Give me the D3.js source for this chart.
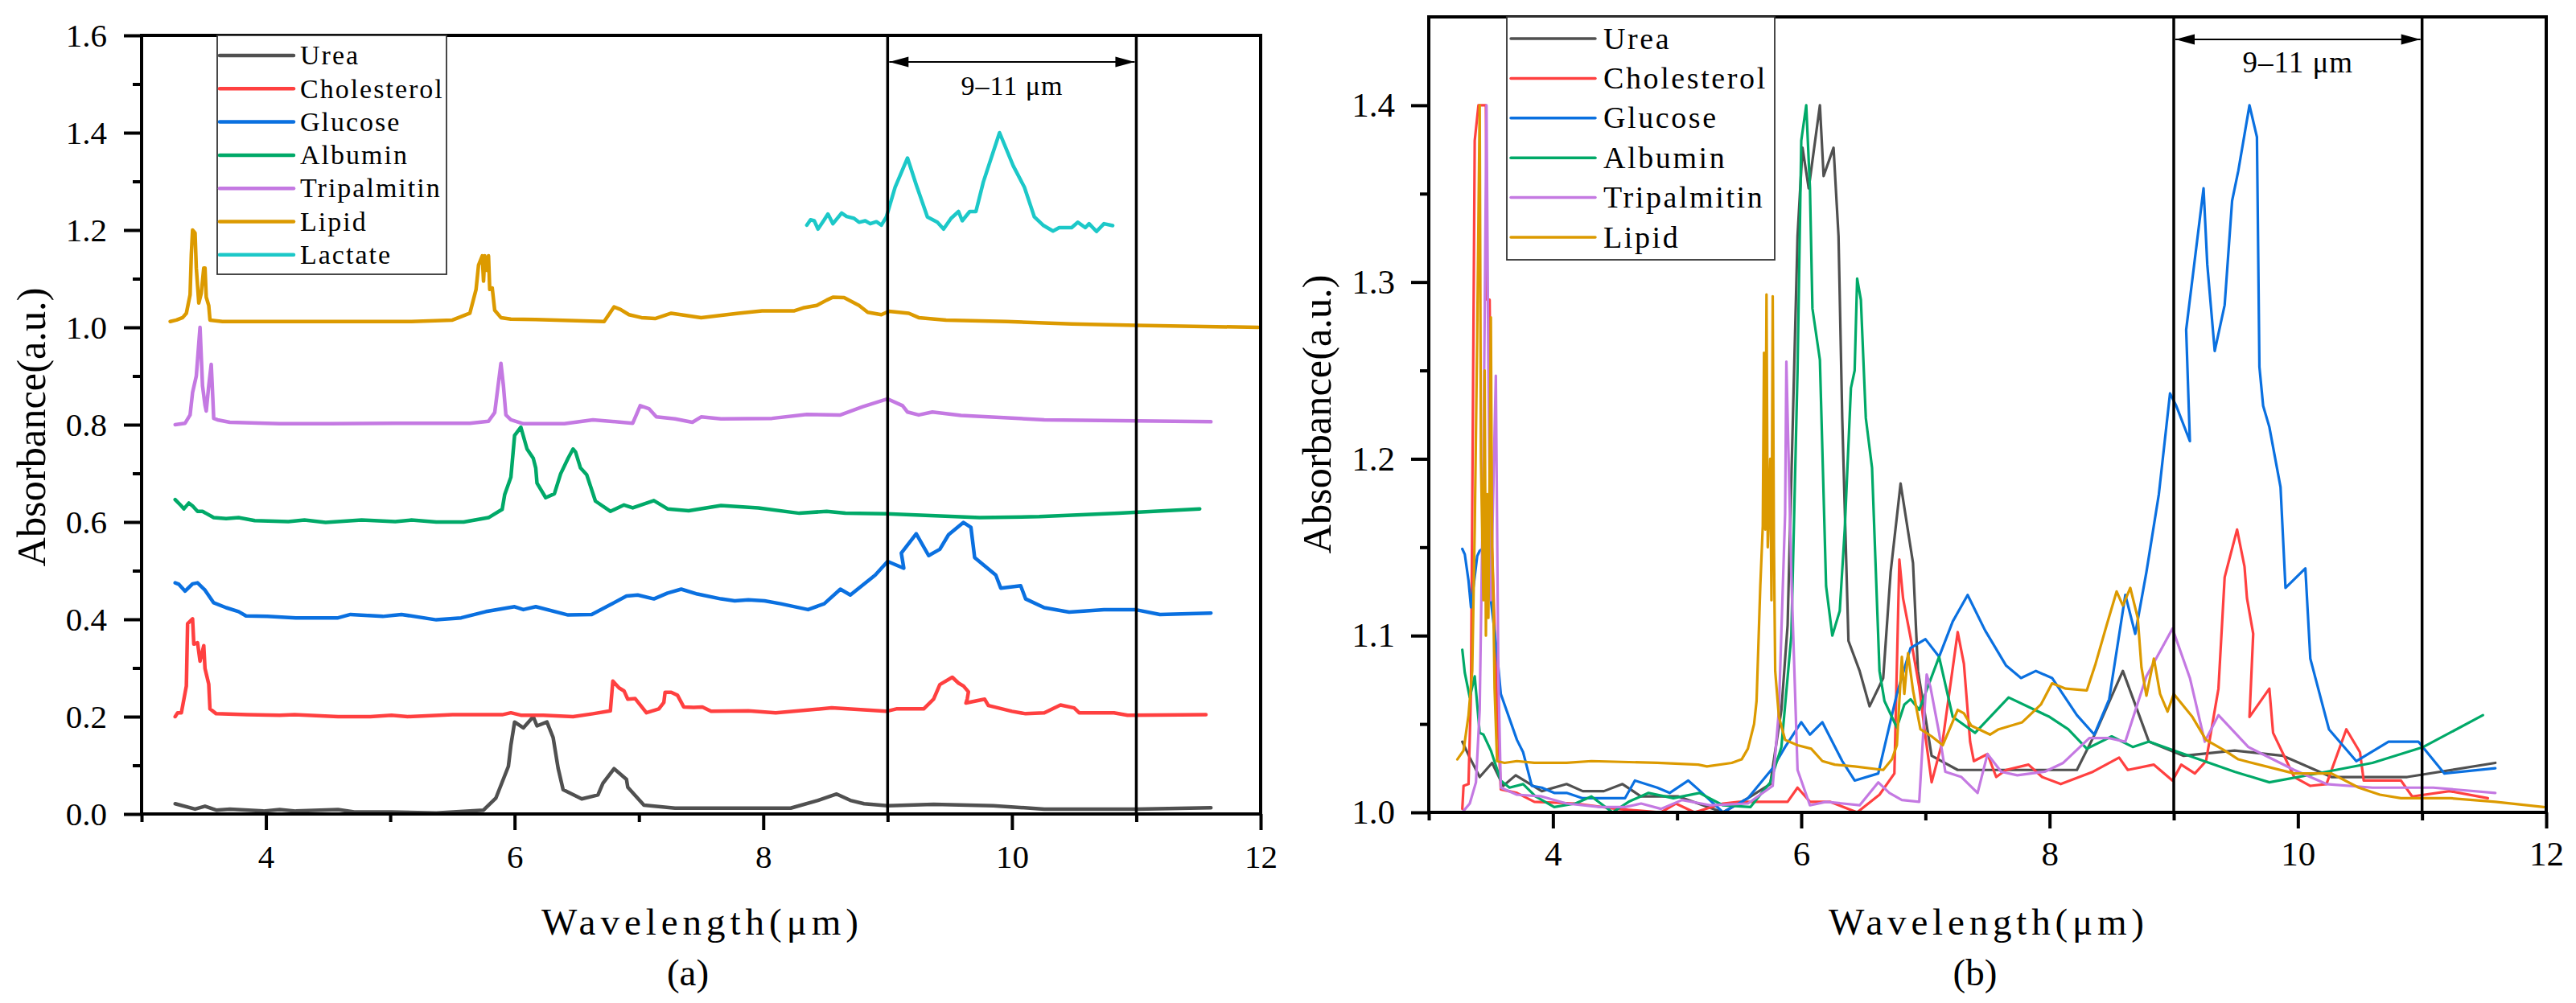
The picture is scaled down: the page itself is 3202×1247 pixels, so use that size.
<!DOCTYPE html>
<html lang="en">
<head>
<meta charset="UTF-8">
<title>Absorbance spectra</title>
<script src="https://d3js.org/d3.v7.min.js"></script>
<style>
  html, body { margin: 0; padding: 0; background: #fff; }
  text { font-family: "Liberation Serif", "Times New Roman", "DejaVu Serif", serif; fill: #000; }
</style>
</head>
<body>
<div id="chart"></div>
<script>
// series names + colours (same order in both panels)
const names = ['Urea', 'Cholesterol', 'Glucose', 'Albumin', 'Tripalmitin', 'Lipid', 'Lactate'];
const colors = ['#505050', '#ff4040', '#0a70e0', '#00a968', '#c479e2', '#dc9a00', '#1cc8c8'];

// panel (a): offset spectra, [wavelength (um), absorbance]
const ureaA = [[3.27,0.021],[3.43,0.010],[3.51,0.016],[3.60,0.008],[3.71,0.010],[3.98,0.006],[4.11,0.009],[4.24,0.006],[4.58,0.009],[4.71,0.004],[5.01,0.004],[5.37,0.002],[5.75,0.008],[5.85,0.033],[5.95,0.098],[5.97,0.141],[6.00,0.189],[6.07,0.177],[6.15,0.200],[6.18,0.181],[6.26,0.189],[6.31,0.157],[6.35,0.094],[6.39,0.050],[6.54,0.031],[6.67,0.039],[6.71,0.063],[6.80,0.093],[6.90,0.071],[6.91,0.055],[7.04,0.018],[7.29,0.012],[8.22,0.012],[8.44,0.028],[8.59,0.041],[8.70,0.028],[8.81,0.021],[9.00,0.017],[9.37,0.020],[9.85,0.017],[10.26,0.010],[11.00,0.010],[11.60,0.013]];
const cholA = [[3.27,0.200],[3.29,0.208],[3.32,0.208],[3.36,0.263],[3.37,0.391],[3.41,0.401],[3.42,0.349],[3.45,0.352],[3.47,0.314],[3.50,0.346],[3.51,0.299],[3.54,0.267],[3.55,0.216],[3.60,0.206],[3.85,0.204],[4.11,0.203],[4.23,0.204],[4.58,0.200],[4.84,0.200],[5.01,0.203],[5.14,0.200],[5.50,0.204],[5.90,0.204],[5.97,0.208],[6.05,0.203],[6.23,0.203],[6.47,0.200],[6.63,0.206],[6.77,0.212],[6.79,0.273],[6.84,0.259],[6.88,0.253],[6.91,0.236],[6.97,0.237],[7.06,0.208],[7.16,0.216],[7.20,0.229],[7.21,0.250],[7.26,0.250],[7.31,0.244],[7.36,0.220],[7.44,0.219],[7.51,0.220],[7.58,0.211],[7.88,0.212],[8.10,0.208],[8.55,0.218],[8.99,0.211],[9.07,0.216],[9.29,0.216],[9.37,0.236],[9.42,0.266],[9.52,0.281],[9.57,0.269],[9.61,0.263],[9.65,0.251],[9.64,0.236],[9.63,0.228],[9.78,0.236],[9.81,0.223],[10.00,0.211],[10.11,0.206],[10.26,0.208],[10.39,0.224],[10.50,0.218],[10.54,0.208],[10.82,0.208],[10.93,0.203],[11.56,0.204]];
const glucA = [[3.27,0.475],[3.30,0.472],[3.35,0.458],[3.41,0.473],[3.45,0.475],[3.51,0.460],[3.58,0.434],[3.68,0.424],[3.78,0.416],[3.84,0.407],[4.01,0.406],[4.24,0.403],[4.58,0.403],[4.68,0.410],[4.94,0.406],[5.09,0.410],[5.37,0.399],[5.57,0.403],[5.77,0.416],[6.00,0.426],[6.07,0.420],[6.17,0.426],[6.43,0.409],[6.62,0.410],[6.77,0.430],[6.90,0.448],[6.99,0.450],[7.12,0.442],[7.23,0.454],[7.34,0.462],[7.47,0.452],[7.66,0.442],[7.77,0.438],[7.88,0.440],[8.01,0.438],[8.14,0.432],[8.36,0.420],[8.49,0.432],[8.62,0.462],[8.70,0.450],[8.90,0.491],[9.00,0.519],[9.13,0.505],[9.11,0.536],[9.23,0.576],[9.33,0.531],[9.42,0.544],[9.49,0.574],[9.61,0.599],[9.67,0.589],[9.70,0.527],[9.87,0.491],[9.91,0.464],[10.07,0.469],[10.11,0.442],[10.26,0.424],[10.46,0.415],[10.74,0.420],[10.99,0.420],[11.19,0.410],[11.60,0.413]];
const albA = [[3.27,0.646],[3.32,0.633],[3.34,0.627],[3.38,0.639],[3.41,0.633],[3.45,0.622],[3.49,0.622],[3.58,0.609],[3.68,0.607],[3.78,0.609],[3.91,0.603],[4.18,0.601],[4.31,0.604],[4.48,0.599],[4.77,0.604],[5.04,0.601],[5.17,0.604],[5.37,0.600],[5.59,0.600],[5.79,0.609],[5.90,0.626],[5.92,0.656],[5.97,0.692],[6.00,0.778],[6.05,0.795],[6.10,0.750],[6.15,0.731],[6.17,0.711],[6.18,0.680],[6.25,0.650],[6.32,0.658],[6.37,0.699],[6.43,0.731],[6.47,0.750],[6.49,0.744],[6.53,0.711],[6.58,0.697],[6.65,0.643],[6.77,0.622],[6.88,0.635],[6.95,0.629],[7.12,0.644],[7.23,0.627],[7.40,0.623],[7.66,0.634],[7.96,0.629],[8.29,0.618],[8.51,0.622],[8.66,0.618],[8.99,0.617],[9.74,0.609],[10.22,0.611],[10.86,0.618],[11.51,0.627]];
const tripA = [[3.27,0.800],[3.35,0.803],[3.39,0.820],[3.41,0.866],[3.44,0.900],[3.47,1.000],[3.49,0.880],[3.51,0.840],[3.52,0.828],[3.54,0.880],[3.56,0.924],[3.57,0.870],[3.58,0.813],[3.61,0.810],[3.71,0.805],[4.11,0.802],[4.51,0.802],[5.04,0.803],[5.64,0.803],[5.79,0.807],[5.84,0.825],[5.89,0.926],[5.91,0.880],[5.93,0.820],[5.97,0.810],[6.07,0.802],[6.40,0.802],[6.63,0.810],[6.95,0.803],[6.98,0.821],[7.01,0.839],[7.08,0.833],[7.14,0.816],[7.29,0.812],[7.43,0.805],[7.50,0.816],[7.66,0.812],[8.07,0.813],[8.35,0.821],[8.62,0.820],[8.80,0.837],[9.00,0.853],[9.12,0.839],[9.16,0.826],[9.25,0.820],[9.36,0.826],[9.59,0.819],[10.26,0.810],[11.60,0.806]];
const lipidA = [[3.23,1.012],[3.28,1.015],[3.33,1.020],[3.36,1.029],[3.39,1.067],[3.40,1.150],[3.41,1.200],[3.43,1.194],[3.44,1.122],[3.46,1.050],[3.48,1.070],[3.50,1.122],[3.51,1.122],[3.52,1.062],[3.54,1.045],[3.55,1.015],[3.65,1.012],[4.18,1.012],[5.17,1.012],[5.50,1.015],[5.64,1.029],[5.69,1.078],[5.71,1.128],[5.74,1.147],[5.75,1.095],[5.76,1.147],[5.78,1.117],[5.79,1.147],[5.80,1.078],[5.82,1.081],[5.84,1.035],[5.89,1.020],[5.97,1.017],[6.17,1.016],[6.72,1.012],[6.80,1.042],[6.85,1.037],[6.92,1.026],[7.02,1.020],[7.13,1.018],[7.26,1.029],[7.50,1.020],[7.80,1.029],[7.99,1.034],[8.25,1.034],[8.32,1.040],[8.43,1.045],[8.51,1.056],[8.56,1.062],[8.65,1.061],[8.77,1.045],[8.84,1.031],[8.95,1.026],[9.01,1.033],[9.17,1.029],[9.25,1.020],[9.47,1.015],[9.96,1.012],[10.48,1.007],[11.00,1.004],[11.98,1.000]];
const lactA = [[8.35,1.210],[8.38,1.221],[8.41,1.219],[8.44,1.202],[8.49,1.221],[8.52,1.233],[8.56,1.213],[8.63,1.235],[8.67,1.228],[8.73,1.224],[8.77,1.216],[8.82,1.219],[8.86,1.213],[8.91,1.217],[8.95,1.210],[8.99,1.227],[9.06,1.288],[9.16,1.348],[9.23,1.293],[9.32,1.227],[9.40,1.216],[9.45,1.202],[9.51,1.224],[9.57,1.238],[9.60,1.219],[9.66,1.238],[9.71,1.238],[9.77,1.299],[9.90,1.400],[10.01,1.332],[10.10,1.288],[10.18,1.227],[10.25,1.210],[10.33,1.198],[10.38,1.205],[10.48,1.205],[10.53,1.216],[10.59,1.205],[10.62,1.213],[10.68,1.197],[10.74,1.213],[10.81,1.209]];

// panel (b): overlaid spectra
const ureaB = [[3.27,1.040],[3.33,1.031],[3.41,1.020],[3.51,1.028],[3.60,1.015],[3.70,1.021],[3.91,1.012],[4.11,1.016],[4.24,1.012],[4.41,1.012],[4.56,1.016],[4.71,1.009],[5.01,1.009],[5.37,1.000],[5.57,1.008],[5.75,1.016],[5.84,1.058],[5.89,1.106],[5.97,1.326],[6.01,1.376],[6.06,1.353],[6.15,1.400],[6.18,1.360],[6.26,1.376],[6.30,1.326],[6.33,1.223],[6.38,1.097],[6.47,1.080],[6.55,1.060],[6.66,1.076],[6.72,1.136],[6.80,1.186],[6.90,1.141],[6.94,1.080],[7.05,1.032],[7.26,1.024],[8.22,1.024],[8.37,1.045],[8.59,1.080],[8.80,1.040],[9.08,1.032],[9.49,1.035],[9.88,1.032],[10.27,1.020],[10.88,1.020],[11.59,1.028]];
const cholB = [[3.27,1.002],[3.28,1.015],[3.32,1.016],[3.34,1.069],[3.37,1.380],[3.40,1.400],[3.46,1.400],[3.47,1.290],[3.49,1.290],[3.51,1.150],[3.55,1.060],[3.58,1.013],[3.71,1.011],[3.85,1.006],[4.18,1.005],[4.51,1.002],[4.87,1.000],[4.99,1.005],[5.14,1.000],[5.37,1.005],[5.50,1.006],[5.89,1.006],[5.97,1.014],[6.07,1.006],[6.23,1.006],[6.45,1.000],[6.63,1.010],[6.75,1.022],[6.79,1.143],[6.82,1.121],[6.88,1.099],[6.95,1.071],[7.00,1.043],[7.05,1.017],[7.14,1.041],[7.26,1.102],[7.31,1.084],[7.36,1.040],[7.39,1.029],[7.50,1.033],[7.57,1.020],[7.65,1.024],[7.83,1.027],[7.94,1.020],[8.09,1.016],[8.35,1.023],[8.56,1.031],[8.63,1.024],[8.84,1.027],[8.99,1.018],[9.06,1.027],[9.17,1.022],[9.26,1.029],[9.36,1.070],[9.41,1.133],[9.51,1.160],[9.57,1.139],[9.59,1.121],[9.64,1.101],[9.61,1.054],[9.77,1.070],[9.80,1.045],[9.97,1.020],[10.10,1.015],[10.23,1.016],[10.39,1.047],[10.50,1.034],[10.53,1.018],[10.83,1.018],[10.92,1.009],[11.22,1.012],[11.53,1.008]];
const glucB = [[3.27,1.149],[3.29,1.146],[3.32,1.131],[3.34,1.116],[3.39,1.145],[3.41,1.148],[3.45,1.150],[3.50,1.120],[3.55,1.090],[3.58,1.067],[3.71,1.041],[3.76,1.034],[3.83,1.015],[3.91,1.014],[4.01,1.011],[4.11,1.011],[4.24,1.008],[4.58,1.008],[4.66,1.018],[4.84,1.014],[4.94,1.011],[5.09,1.018],[5.17,1.013],[5.37,1.000],[5.57,1.008],[5.77,1.025],[5.87,1.037],[6.00,1.051],[6.07,1.044],[6.17,1.051],[6.33,1.029],[6.43,1.018],[6.62,1.022],[6.77,1.067],[6.88,1.093],[7.00,1.098],[7.11,1.088],[7.22,1.108],[7.34,1.123],[7.48,1.103],[7.65,1.083],[7.77,1.076],[7.89,1.080],[8.02,1.076],[8.22,1.055],[8.36,1.044],[8.48,1.064],[8.61,1.123],[8.69,1.101],[8.78,1.136],[8.88,1.180],[8.97,1.237],[9.02,1.230],[9.13,1.210],[9.10,1.273],[9.24,1.353],[9.27,1.310],[9.33,1.261],[9.41,1.287],[9.47,1.346],[9.52,1.363],[9.61,1.400],[9.67,1.382],[9.69,1.252],[9.72,1.230],[9.77,1.218],[9.86,1.184],[9.90,1.127],[10.06,1.138],[10.10,1.087],[10.25,1.047],[10.47,1.029],[10.73,1.040],[10.97,1.040],[11.18,1.022],[11.59,1.025]];
const albB = [[3.27,1.092],[3.29,1.079],[3.33,1.065],[3.37,1.077],[3.41,1.045],[3.44,1.044],[3.50,1.035],[3.58,1.018],[3.65,1.014],[3.76,1.016],[3.86,1.009],[4.01,1.003],[4.18,1.005],[4.31,1.009],[4.48,1.000],[4.61,1.006],[4.77,1.011],[4.97,1.008],[5.18,1.011],[5.37,1.004],[5.59,1.003],[5.75,1.017],[5.84,1.037],[5.92,1.100],[5.97,1.250],[6.00,1.380],[6.04,1.400],[6.07,1.353],[6.09,1.285],[6.15,1.256],[6.20,1.128],[6.25,1.100],[6.31,1.114],[6.35,1.160],[6.40,1.240],[6.43,1.250],[6.45,1.302],[6.48,1.290],[6.52,1.223],[6.57,1.195],[6.63,1.080],[6.67,1.063],[6.77,1.048],[6.83,1.061],[6.88,1.064],[6.95,1.058],[7.11,1.088],[7.22,1.054],[7.40,1.045],[7.67,1.065],[8.00,1.054],[8.15,1.047],[8.30,1.036],[8.50,1.043],[8.67,1.037],[8.80,1.040],[9.00,1.035],[9.49,1.023],[9.77,1.017],[10.23,1.023],[10.60,1.028],[11.01,1.037],[11.49,1.055]];
const tripB = [[3.27,1.000],[3.33,1.005],[3.38,1.017],[3.41,1.058],[3.44,1.200],[3.465,1.400],[3.48,1.250],[3.50,1.120],[3.54,1.247],[3.56,1.080],[3.58,1.014],[3.71,1.010],[3.91,1.009],[4.11,1.005],[4.38,1.003],[4.58,1.003],[4.71,1.005],[4.87,1.002],[5.04,1.007],[5.27,1.004],[5.57,1.005],[5.77,1.015],[5.82,1.058],[5.87,1.169],[5.88,1.255],[5.92,1.134],[5.97,1.024],[6.07,1.004],[6.20,1.006],[6.47,1.004],[6.62,1.017],[6.71,1.011],[6.81,1.007],[6.95,1.006],[7.01,1.078],[7.04,1.071],[7.11,1.045],[7.16,1.023],[7.29,1.020],[7.42,1.011],[7.50,1.033],[7.61,1.023],[7.74,1.021],[7.96,1.023],[8.11,1.028],[8.32,1.042],[8.48,1.042],[8.61,1.040],[8.78,1.077],[8.99,1.104],[9.13,1.076],[9.25,1.040],[9.36,1.055],[9.60,1.037],[9.97,1.024],[10.23,1.016],[10.60,1.014],[11.09,1.014],[11.59,1.011]];
const lipidB = [[3.23,1.030],[3.28,1.035],[3.32,1.055],[3.35,1.080],[3.37,1.160],[3.39,1.270],[3.41,1.400],[3.42,1.200],[3.44,1.120],[3.45,1.250],[3.46,1.100],[3.47,1.180],[3.48,1.110],[3.50,1.280],[3.51,1.150],[3.52,1.120],[3.53,1.070],[3.55,1.029],[3.61,1.028],[3.71,1.029],[3.85,1.028],[4.11,1.028],[4.31,1.029],[4.84,1.028],[5.17,1.027],[5.24,1.026],[5.44,1.028],[5.52,1.030],[5.57,1.036],[5.62,1.050],[5.64,1.063],[5.67,1.128],[5.69,1.162],[5.70,1.260],[5.71,1.160],[5.72,1.293],[5.73,1.150],[5.75,1.200],[5.76,1.120],[5.77,1.292],[5.78,1.150],[5.79,1.080],[5.82,1.054],[5.87,1.041],[5.97,1.038],[6.08,1.036],[6.17,1.029],[6.27,1.027],[6.43,1.026],[6.66,1.024],[6.73,1.030],[6.77,1.038],[6.81,1.088],[6.83,1.067],[6.86,1.090],[6.90,1.069],[6.96,1.047],[7.05,1.043],[7.14,1.038],[7.26,1.058],[7.31,1.056],[7.37,1.049],[7.52,1.044],[7.59,1.047],[7.78,1.051],[7.93,1.061],[8.02,1.073],[8.13,1.070],[8.30,1.069],[8.37,1.084],[8.46,1.106],[8.54,1.125],[8.59,1.117],[8.65,1.127],[8.71,1.110],[8.74,1.082],[8.78,1.066],[8.84,1.087],[8.89,1.067],[8.95,1.057],[9.00,1.067],[9.15,1.054],[9.26,1.041],[9.41,1.035],[9.52,1.030],[9.97,1.022],[10.27,1.022],[10.49,1.014],[10.66,1.010],[10.83,1.008],[11.23,1.008],[11.59,1.006],[11.98,1.003]];

// ticks
const xMajor = [4, 6, 8, 10, 12];
const xMinor = [3, 5, 7, 9, 11];
const yMajorA = [0, 0.2, 0.4, 0.6, 0.8, 1.0, 1.2, 1.4, 1.6];
const yMinorA = [0.1, 0.3, 0.5, 0.7, 0.9, 1.1, 1.3, 1.5];
const yMajorB = [1.0, 1.1, 1.2, 1.3, 1.4];
const yMinorB = [1.05, 1.15, 1.25, 1.35];
const band = [9, 11];
const bandText = '9\u201311 \u03bcm';

const svg = d3.select('#chart').append('svg')
    .attr('width', 3202)
    .attr('height', 1247)
    .style('display', 'block')
    .style('background', '#fff');

const panels = [
  { id: 'a', series: [ureaA, cholA, glucA, albA, tripA, lipidA, lactA], yDomain: [0, 1.6],
    yMajor: yMajorA, yMinor: yMinorA, fmt: d3.format('.1f'),
    left: 176, right: 1567, top: 44, bottom: 1012,
    tickFont: 41, yPad: 21, xPad: 18, lineW: 4.5,
    arrowY: 77, bandY: 118, bandFont: 34,
    leg: { x0: 270, x1: 555, y1: 341, row0: 69, step: 41.3, lx0: 273, lx1: 365, tx: 373, font: 34, ls: 2, lw: 4.5 },
    yTitle: { x: 56, y: 531 }, xTitle: { x: 870, len: 394 }, tag: { x: 855, s: '(a)' } },
  { id: 'b', series: [ureaB, cholB, glucB, albB, tripB, lipidB], yDomain: [1.0, 1.45],
    yMajor: yMajorB, yMinor: yMinorB, fmt: d3.format('.1f'),
    left: 1776, right: 3165, top: 21, bottom: 1010,
    tickFont: 43, yPad: 20, xPad: 15, lineW: 3.2,
    arrowY: 49, bandY: 90, bandFont: 37,
    leg: { x0: 1873, x1: 2206, y1: 323, row0: 48, step: 49.4, lx0: 1878, lx1: 1983, tx: 1993, font: 38, ls: 2.6, lw: 3.5 },
    yTitle: { x: 1654, y: 515 }, xTitle: { x: 2469, len: 392 }, tag: { x: 2455, s: '(b)' } }
];

panels.forEach(p => {
  const g = svg.append('g').attr('class', 'panel-' + p.id);
  const x = d3.scaleLinear().domain([3, 12]).range([p.left, p.right]);
  const y = d3.scaleLinear().domain(p.yDomain).range([p.bottom, p.top]);

  g.append('clipPath').attr('id', 'clip-' + p.id)
    .append('rect')
    .attr('x', p.left).attr('y', p.top)
    .attr('width', p.right - p.left).attr('height', p.bottom - p.top);

  // axes (majors with labels, minors without)
  const styleAxis = a => {
    a.select('.domain').remove();
    a.attr('font-size', p.tickFont).attr('font-family', null);
    a.selectAll('line').attr('stroke', '#000').attr('stroke-width', 4);
  };
  g.append('g').attr('transform', `translate(0,${p.bottom})`)
    .call(d3.axisBottom(x).tickValues(xMajor).tickSize(20).tickPadding(p.xPad).tickFormat(d3.format('d')))
    .call(styleAxis);
  g.append('g').attr('transform', `translate(0,${p.bottom})`)
    .call(d3.axisBottom(x).tickValues(xMinor).tickSize(10).tickFormat(''))
    .call(styleAxis);
  g.append('g').attr('transform', `translate(${p.left},0)`)
    .call(d3.axisLeft(y).tickValues(p.yMajor).tickSize(22).tickPadding(p.yPad).tickFormat(p.fmt))
    .call(styleAxis);
  g.append('g').attr('transform', `translate(${p.left},0)`)
    .call(d3.axisLeft(y).tickValues(p.yMinor).tickSize(11).tickFormat(''))
    .call(styleAxis);

  // spectra
  const line = d3.line().x(d => x(d[0])).y(d => y(d[1]));
  g.append('g').attr('clip-path', `url(#clip-${p.id})`)
    .selectAll('path')
    .data(p.series)
    .join('path')
    .attr('d', line)
    .attr('fill', 'none')
    .attr('stroke', (d, i) => colors[i])
    .attr('stroke-width', p.lineW)
    .attr('stroke-linejoin', 'round')
    .attr('stroke-linecap', 'round');

  // 9-11 um band markers
  g.selectAll('.band')
    .data(band)
    .join('line')
    .attr('class', 'band')
    .attr('x1', d => x(d)).attr('x2', d => x(d))
    .attr('y1', p.top).attr('y2', p.bottom)
    .attr('stroke', '#000').attr('stroke-width', 3.5);

  const ax0 = x(band[0]) + 2, ax1 = x(band[1]) - 2;
  g.append('line')
    .attr('x1', ax0).attr('x2', ax1).attr('y1', p.arrowY).attr('y2', p.arrowY)
    .attr('stroke', '#000').attr('stroke-width', 2);
  g.append('path').attr('d', `M${ax0},${p.arrowY} l24,-6.5 l0,13 Z`).attr('fill', '#000');
  g.append('path').attr('d', `M${ax1},${p.arrowY} l-24,-6.5 l0,13 Z`).attr('fill', '#000');
  g.append('text')
    .attr('x', (x(band[0]) + x(band[1])) / 2).attr('y', p.bandY)
    .attr('text-anchor', 'middle')
    .attr('font-size', p.bandFont)
    .attr('letter-spacing', 1)
    .text(bandText);

  // frame
  g.append('rect')
    .attr('x', p.left).attr('y', p.top)
    .attr('width', p.right - p.left).attr('height', p.bottom - p.top)
    .attr('fill', 'none').attr('stroke', '#000').attr('stroke-width', 4);

  // legend
  const L = p.leg;
  g.append('rect')
    .attr('x', L.x0).attr('y', p.top)
    .attr('width', L.x1 - L.x0).attr('height', L.y1 - p.top)
    .attr('fill', '#fff').attr('stroke', '#333').attr('stroke-width', 1.8);
  const rows = g.selectAll('.leg')
    .data(p.series.map((s, i) => names[i]))
    .join('g')
    .attr('class', 'leg')
    .attr('transform', (d, i) => `translate(0,${L.row0 + i * L.step})`);
  rows.append('line')
    .attr('x1', L.lx0).attr('x2', L.lx1)
    .attr('stroke', (d, i) => colors[i])
    .attr('stroke-width', L.lw)
    .attr('stroke-linecap', 'round');
  rows.append('text')
    .attr('x', L.tx).attr('dy', '0.33em')
    .attr('font-size', L.font)
    .attr('letter-spacing', L.ls)
    .text(d => d);

  // titles
  g.append('text')
    .attr('transform', `translate(${p.yTitle.x},${p.yTitle.y}) rotate(-90)`)
    .attr('text-anchor', 'middle')
    .attr('font-size', 50)
    .attr('textLength', 347)
    .attr('lengthAdjust', 'spacingAndGlyphs')
    .text('Absorbance(a.u.)');
  g.append('text')
    .attr('x', p.xTitle.x - p.xTitle.len / 2).attr('y', 1162)
    .attr('font-size', 47)
    .attr('textLength', p.xTitle.len)
    .attr('lengthAdjust', 'spacing')
    .text('Wavelength(\u03bcm)');
  g.append('text')
    .attr('x', p.tag.x).attr('y', 1225)
    .attr('text-anchor', 'middle')
    .attr('font-size', 47)
    .text(p.tag.s);
});
</script>
</body>
</html>
